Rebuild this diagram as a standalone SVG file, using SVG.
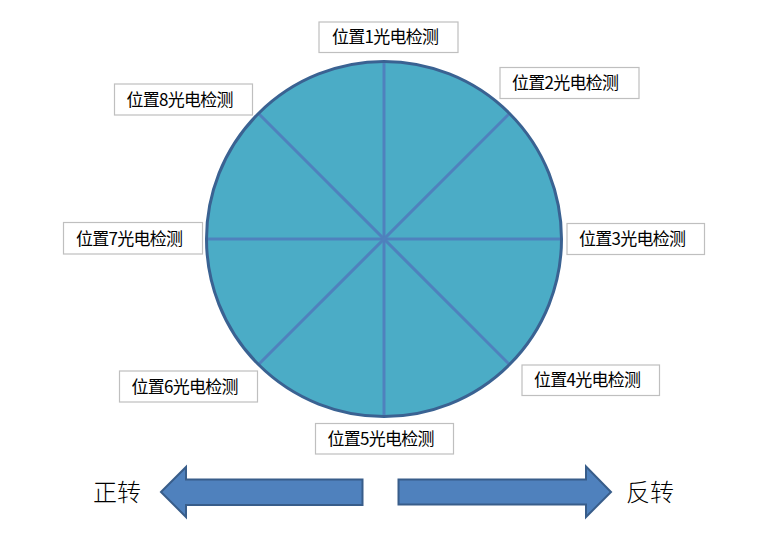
<svg xmlns="http://www.w3.org/2000/svg" width="775" height="553" viewBox="0 0 775 553">
<style>
.box{fill:#ffffff;stroke:#BFBFBF;stroke-width:1.2}
.lbl{font-family:"Noto Sans CJK SC","Noto Sans",sans-serif;font-size:17px;fill:#000000}
.spoke{stroke:#4F81BD;stroke-width:3;fill:none}
.arrow{fill:#4F81BD;stroke:#385D8A;stroke-width:2;stroke-linejoin:miter}
.dir{font-family:"Noto Sans CJK SC","Liberation Serif",serif;font-size:24px;font-weight:300;fill:#000000}
</style>
<rect width="775" height="553" fill="#ffffff"/>
<g id="wheel">
<circle cx="384" cy="239" r="177.5" fill="#4BACC6"/>
<g id="spokes">
<line class="spoke" x1="384" y1="61" x2="384" y2="417"/>
<line class="spoke" x1="206" y1="239" x2="562" y2="239"/>
<line class="spoke" x1="258.5" y1="113.5" x2="509.5" y2="364.5"/>
<line class="spoke" x1="509.5" y1="113.5" x2="258.5" y2="364.5"/>
</g>
<circle cx="384" cy="239" r="177.5" fill="none" stroke="#3A6292" stroke-width="3"/>
</g>
<g id="pos1"><rect class="box" x="319" y="22" width="139" height="30.5"/><text class="lbl" x="332" y="43" textLength="107" lengthAdjust="spacing">位置1光电检测</text></g>
<g id="pos2"><rect class="box" x="500" y="67.5" width="139" height="31"/><text class="lbl" x="512" y="89" textLength="107" lengthAdjust="spacing">位置2光电检测</text></g>
<g id="pos3"><rect class="box" x="567" y="223.5" width="137.5" height="31"/><text class="lbl" x="579" y="245" textLength="107" lengthAdjust="spacing">位置3光电检测</text></g>
<g id="pos4"><rect class="box" x="522" y="365" width="137.5" height="30.5"/><text class="lbl" x="534" y="386" textLength="107" lengthAdjust="spacing">位置4光电检测</text></g>
<g id="pos5"><rect class="box" x="315.5" y="423.5" width="138" height="30.5"/><text class="lbl" x="327.5" y="445" textLength="107" lengthAdjust="spacing">位置5光电检测</text></g>
<g id="pos6"><rect class="box" x="119.5" y="371" width="138" height="31"/><text class="lbl" x="131.5" y="392.5" textLength="107" lengthAdjust="spacing">位置6光电检测</text></g>
<g id="pos7"><rect class="box" x="63.5" y="222.5" width="139" height="31.5"/><text class="lbl" x="76" y="244.5" textLength="107" lengthAdjust="spacing">位置7光电检测</text></g>
<g id="pos8"><rect class="box" x="114.5" y="84" width="138" height="31"/><text class="lbl" x="126.5" y="105.5" textLength="107" lengthAdjust="spacing">位置8光电检测</text></g>
<g id="ccw">
<polygon class="arrow" points="161,492 186,467 186,479.5 362.5,479.5 362.5,505 186,505 186,517"/>
<text class="dir" x="93" y="501">正转</text>
</g>
<g id="cw">
<polygon class="arrow" points="398.5,479.5 586,479.5 586,466.5 611,492 586,517 586,504.5 398.5,504.5"/>
<text class="dir" x="626" y="501">反转</text>
</g>
</svg>
